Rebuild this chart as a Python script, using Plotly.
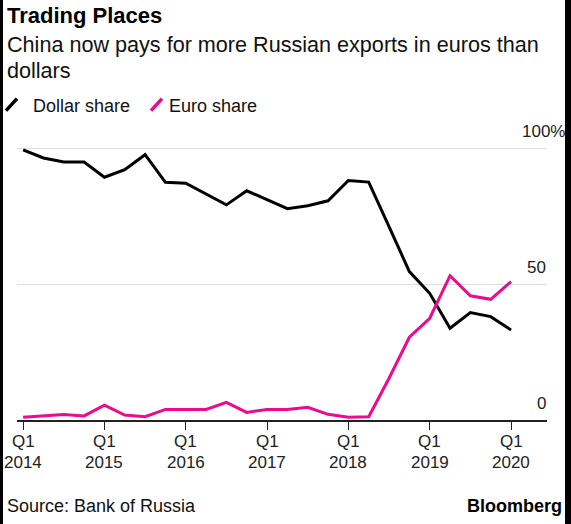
import plotly.graph_objects as go

# Quarterly share of Russian exports to China paid in each currency (%)
quarters = [f"Q{q} {y}" for y in range(2014, 2021) for q in range(1, 5)][:25]

dollar_share = [99.6, 96.6, 95.1, 95.1, 89.5, 92.3, 97.8, 87.6, 87.3, 83.3,
                79.3, 84.5, 81.2, 77.9, 79.0, 80.8, 88.3, 87.7, 71.3, 54.7,
                46.7, 33.8, 39.6, 38.1, 33.2]
euro_share = [1.0, 1.5, 2.0, 1.5, 5.5, 1.8, 1.2, 3.9, 3.9, 3.9,
              6.5, 2.8, 3.9, 3.9, 4.7, 2.1, 1.0, 1.2, 15.4, 30.5,
              37.5, 53.2, 45.8, 44.5, 51.0]

tick_quarters = [q for q in quarters if q.startswith("Q1")]

y_labels = [(100, "100%"), (50, "50"), (0, "0")]

FONT = "Liberation Sans, Arial, sans-serif"
BLACK = "#000000"
PINK = "#ee0a8c"

# plot area in pixels: x 17..547, value 0 at y=420, value 100 at y=149
W, H = 571, 524
L, R, B = 17, 547, 420
Y_TOP = 101
T = B - (B - 149) * Y_TOP / 100


def px(x):
    return (x - L) / (R - L)


def py(y):
    return (B - y) / (B - T)


fig = go.Figure()

fig.add_trace(go.Scatter(
    x=quarters, y=dollar_share, mode="lines", name="Dollar share",
    line=dict(color=BLACK, width=3), showlegend=False,
))
fig.add_trace(go.Scatter(
    x=quarters, y=euro_share, mode="lines", name="Euro share",
    line=dict(color=PINK, width=3), showlegend=False,
))

annotations = [
    dict(text="<b>Trading Places</b>", x=px(5), y=py(16), font=dict(size=22, color=BLACK)),
    dict(text="China now pays for more Russian exports in euros than", x=px(5), y=py(45),
         font=dict(size=21.6, color="#111111")),
    dict(text="dollars", x=px(5), y=py(71), font=dict(size=21.6, color="#111111")),
    dict(text="Dollar share", x=px(31), y=py(106), font=dict(size=18, color="#111111")),
    dict(text="Euro share", x=px(167), y=py(106), font=dict(size=18, color="#111111")),
    dict(text="Source: Bank of Russia", x=px(5), y=py(506), font=dict(size=18, color="#111111")),
]
for a in annotations:
    a.update(xref="paper", yref="paper", xanchor="left", yanchor="middle", showarrow=False)

annotations.append(dict(
    text="<b>Bloomberg</b>", x=px(564), y=py(506), xref="paper", yref="paper",
    xanchor="right", yanchor="middle", showarrow=False, font=dict(size=18, color=BLACK),
))

# value labels sit above their gridlines, right edge of numbers aligned
for val, label in y_labels:
    annotations.append(dict(
        text=label, x=px(548) if label != "100%" else px(520), y=val,
        xref="paper", yref="y", xanchor="right" if label != "100%" else "left",
        yanchor="middle", yshift=17, showarrow=False,
        font=dict(size=17, color="#222222"),
    ))

# two-row quarter labels under the Q1 ticks
for q in tick_quarters:
    qpart, year = q.split(" ")
    for text, ypix in ((qpart, 441), (year, 462)):
        annotations.append(dict(
            text=text, x=q, y=py(ypix), xref="x", yref="paper",
            xanchor="center", yanchor="middle", showarrow=False,
            font=dict(size=17, color="#222222"),
        ))

# dark frame strips at the left and right edges of the picture
for x_left, strip_w in ((0, 3), (565, 6)):
    annotations.append(dict(
        text=" ", x=px(x_left), y=py(0), xref="paper", yref="paper",
        xanchor="left", yanchor="top", showarrow=False,
        width=strip_w, height=H, bgcolor=BLACK, borderpad=0, borderwidth=0,
        font=dict(size=4),
    ))

shapes = [
    # legend icons
    dict(type="line", xref="paper", yref="paper", x0=px(6), y0=py(111), x1=px(17), y1=py(99),
         line=dict(color=BLACK, width=3.5)),
    dict(type="line", xref="paper", yref="paper", x0=px(151), y0=py(111), x1=px(162), y1=py(99),
         line=dict(color=PINK, width=3.5)),
]

fig.update_layout(
    width=W, height=H,
    margin=dict(l=L, r=W - R, t=T, b=H - B, pad=0),
    paper_bgcolor="white", plot_bgcolor="white",
    font=dict(family=FONT, size=18, color="#222222"),
    showlegend=False,
    annotations=annotations,
    shapes=shapes,
    xaxis=dict(
        type="category", categoryorder="array", categoryarray=quarters,
        range=[-0.3, 25.77], tickmode="array", tickvals=tick_quarters,
        showticklabels=False,
        showgrid=False, showline=True, linecolor="#222222", linewidth=1.5,
        ticks="outside", ticklen=8, tickwidth=1.2, tickcolor="#222222",
        automargin=False, fixedrange=True,
    ),
    yaxis=dict(
        range=[0, Y_TOP], tickmode="array", tickvals=[50, 100], showticklabels=False,
        showgrid=True, gridcolor="#dddddd", gridwidth=1.2, zeroline=False,
        showline=False, automargin=False, fixedrange=True,
    ),
)

# drop the browser's default 8px body margin so the figure sits at the page corner
fig.write_html("out.html", config={"displayModeBar": False},
               post_script="document.body.style.margin='0';")
